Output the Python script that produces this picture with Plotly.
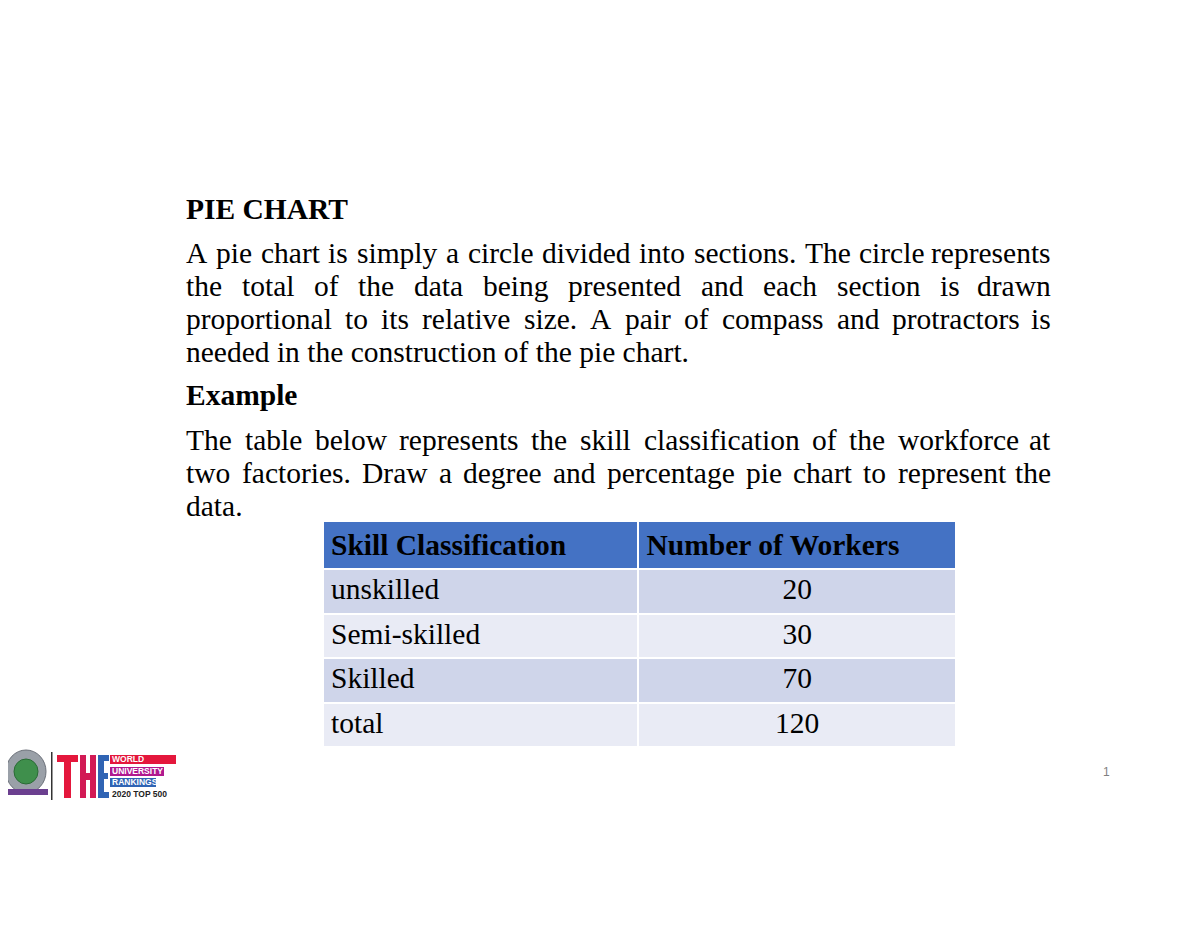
"""Slide: PIE CHART example - text + table of skill classification (Plotly)."""
import plotly.graph_objects as go

W, H = 1200, 927
OFF = 8  # browser body margin
SERIF = "Liberation Serif, Times New Roman, serif"
FS = 29.5

# table data
HEADERS = ["Skill Classification", "Number of Workers"]
SKILLS = ["unskilled", "Semi-skilled", "Skilled", "total"]
WORKERS = [20, 30, 70, 120]

# slide text (one entry per printed line; True = justified)
TITLE = "PIE CHART"
PARA1 = [("A pie chart is simply a circle divided into sections. The circle represents", True),
         ("the total of the data being presented and each section is drawn", True),
         ("proportional to its relative size. A pair of compass and protractors is", True),
         ("needed in the construction of the pie chart.", False)]
SUBTITLE = "Example"
PARA2 = [("The table below represents the skill classification of the workforce at", True),
         ("two factories. Draw a degree and percentage pie chart to represent the", True),
         ("data.", False)]
PAGE_NO = "1"

# Times-Roman advance widths (1/1000 em), used to justify lines
AFM = {" ": 250, ".": 250, ",": 250, "-": 333, "A": 722, "D": 722, "T": 611,
       "a": 444, "b": 500, "c": 444, "d": 500, "e": 444, "f": 333, "g": 500, "h": 500,
       "i": 278, "j": 278, "k": 500, "l": 278, "m": 778, "n": 500, "o": 500, "p": 500,
       "q": 500, "r": 333, "s": 389, "t": 278, "u": 500, "v": 500, "w": 722, "x": 500,
       "y": 500, "z": 444}


def px(x):
    return (x - OFF) / W


def py(y):
    return 1 - (y - OFF) / H


def tw(s):
    return sum(AFM.get(ch, 500) for ch in s) * FS / 1000


LEFT, RIGHT = 185, 1052
annotations = []


def put(text, x, base, bold=False, anchor="left", size=FS, color="black", family=SERIF):
    annotations.append(dict(
        text=f"<b>{text}</b>" if bold else text, x=px(x), y=py(base - 0.32 * size),
        xref="paper", yref="paper", xanchor=anchor, yanchor="middle", showarrow=False,
        font=dict(family=family, size=size, color=color), borderpad=0))


def line(text, base, justify):
    if not justify:
        put(text, LEFT, base)
        return
    words = text.split(" ")
    widths = [tw(w) for w in words]
    gap = (RIGHT - LEFT - sum(widths)) / (len(words) - 1)
    x = LEFT
    for i, w in enumerate(words):
        if i == len(words) - 1:
            put(w, RIGHT, base, anchor="right")
        else:
            put(w, x, base)
        x += widths[i] + gap


put(TITLE, LEFT, 218, bold=True)
for i, (t, j) in enumerate(PARA1):
    line(t, 262 + i * 33, j)
put(SUBTITLE, LEFT, 404, bold=True)
for i, (t, j) in enumerate(PARA2):
    line(t, 449 + i * 33, j)
put(PAGE_NO, 1102, 776, size=12, color="#7f7f7f", family="Liberation Sans, Arial, sans-serif")

fig = go.Figure()

row_fill = ["#CFD5EA" if i % 2 == 0 else "#E9EBF5" for i in range(len(SKILLS))]
fig.add_trace(go.Table(
    domain=dict(x=[px(323), px(956)], y=[py(750), py(521)]),
    columnwidth=[314, 316],
    header=dict(values=[f"<b>{h}</b>" for h in HEADERS], fill_color="#4472C4",
                line=dict(color="white", width=2), align="left", height=44.6,
                font=dict(family=SERIF, size=FS, color="black")),
    cells=dict(values=[SKILLS, WORKERS], fill_color=[row_fill, row_fill],
               line=dict(color="white", width=2), align=["left", "center"], height=44.6,
               font=dict(family=SERIF, size=FS, color="black"))))

# university / THE rankings logo (decorative)
shapes = []


def rect(x0, y0, x1, y1, color):
    shapes.append(dict(type="rect", xref="paper", yref="paper", x0=px(x0), x1=px(x1),
                       y0=py(y1), y1=py(y0), fillcolor=color, line=dict(width=0)))


shapes.append(dict(type="circle", xref="paper", yref="paper", x0=px(6), x1=px(46),
                   y0=py(793), y1=py(750), fillcolor="#9aa0a8", line=dict(color="#6b7079", width=1)))
shapes.append(dict(type="circle", xref="paper", yref="paper", x0=px(14), x1=px(38),
                   y0=py(784), y1=py(759), fillcolor="#3f8f4c", line=dict(color="#2a6b35", width=1)))
rect(6, 789, 48, 795, "#6b3f8f")
rect(51, 752, 52.5, 800, "#333333")
RED, PINK, BLUE, PURPLE = "#e4173c", "#d21a55", "#3064b4", "#b0198f"
rect(57, 755, 78, 762, RED)
rect(64, 755, 71, 798, RED)
rect(80, 755, 86, 798, PINK)
rect(90, 755, 96, 798, PINK)
rect(80, 773, 96, 780, PINK)
rect(98, 755, 104, 798, BLUE)
rect(98, 755, 109, 761, BLUE)
rect(98, 773, 108, 779, BLUE)
rect(98, 792, 109, 798, BLUE)
rect(110, 755, 176, 764, RED)
rect(110, 767, 164, 776, PURPLE)
rect(110, 778, 156, 787, BLUE)
fig.update_layout(shapes=shapes)

for txt, yb in [("WORLD", 763), ("UNIVERSITY", 775), ("RANKINGS", 786)]:
    annotations.append(dict(text=f"<b>{txt}</b>", x=px(111), y=py(yb - 4), xref="paper", yref="paper",
                            xanchor="left", yanchor="middle", showarrow=False, borderpad=0,
                            font=dict(family="Liberation Sans Narrow, Liberation Sans, sans-serif",
                                      size=8.5, color="white")))
annotations.append(dict(text="<b>2020 TOP 500</b>", x=px(111), y=py(794), xref="paper", yref="paper",
                        xanchor="left", yanchor="middle", showarrow=False, borderpad=0,
                        font=dict(family="Liberation Sans Narrow, Liberation Sans, sans-serif",
                                  size=8.5, color="#222222")))

fig.update_layout(width=W, height=H, margin=dict(l=0, r=0, t=0, b=0),
                  paper_bgcolor="white", plot_bgcolor="white", annotations=annotations,
                  xaxis=dict(visible=False), yaxis=dict(visible=False), showlegend=False)
fig.write_html("out.html")
